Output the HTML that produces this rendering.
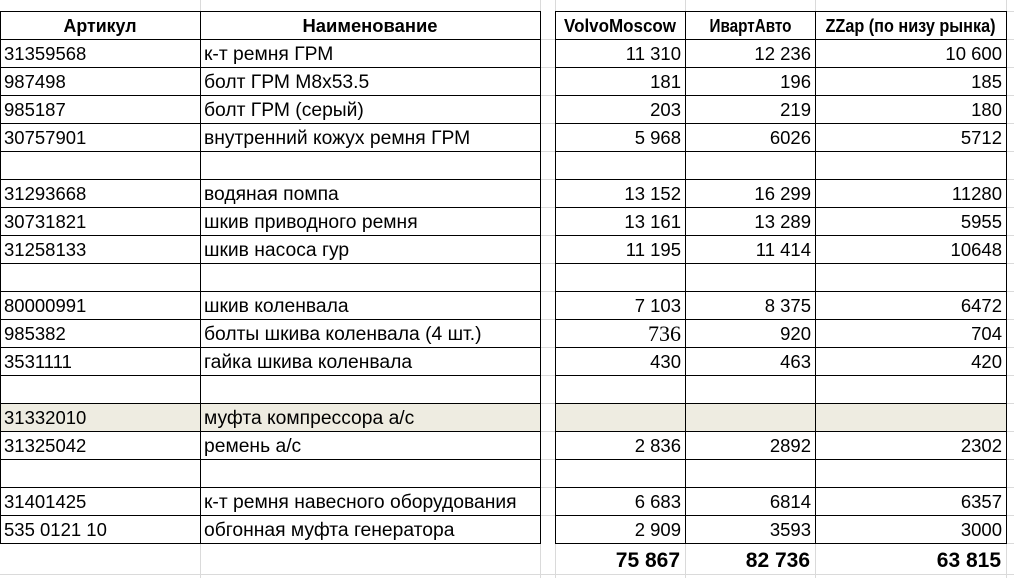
<!DOCTYPE html>
<html><head><meta charset="utf-8"><style>
html,body{margin:0;padding:0;background:#fff;width:1014px;height:578px;overflow:hidden}
svg{display:block}
.t{font-family:"Liberation Sans","Noto Sans CJK SC",sans-serif;fill:#000}
.n{font-size:18.5px}
.b{font-size:19.3px}
.h{font-size:18px;font-weight:bold}
.tot{font-size:21px;font-weight:bold}
</style></head><body>
<svg width="1014" height="578" viewBox="0 0 1014 578" xmlns="http://www.w3.org/2000/svg">
<rect width="1014" height="578" fill="#fff"/>
<rect x="0" y="403.5" width="540.5" height="28" fill="#EEECE1"/>
<rect x="555.5" y="403.5" width="451" height="28" fill="#EEECE1"/>
<g stroke="#dadada" stroke-width="1">
<line x1="200.5" y1="0" x2="200.5" y2="12"/>
<line x1="540.5" y1="0" x2="540.5" y2="12"/>
<line x1="555.5" y1="0" x2="555.5" y2="12"/>
<line x1="685.5" y1="0" x2="685.5" y2="12"/>
<line x1="815.5" y1="0" x2="815.5" y2="12"/>
<line x1="1006.5" y1="0" x2="1006.5" y2="578"/>
<line x1="200.5" y1="543" x2="200.5" y2="578"/>
<line x1="540.5" y1="543" x2="540.5" y2="578"/>
<line x1="555.5" y1="543" x2="555.5" y2="578"/>
<line x1="685.5" y1="543" x2="685.5" y2="578"/>
<line x1="815.5" y1="543" x2="815.5" y2="578"/>
<line x1="0" y1="574.5" x2="1014" y2="574.5"/>
<path d="M540 39.5H556M540 67.5H556M540 95.5H556M540 123.5H556M540 151.5H556M540 179.5H556M540 207.5H556M540 235.5H556M540 263.5H556M540 291.5H556M540 319.5H556M540 347.5H556M540 375.5H556M540 403.5H556M540 431.5H556M540 459.5H556M540 487.5H556M540 515.5H556"/>
<path d="M1006 11.5H1014M1006 39.5H1014M1006 67.5H1014M1006 95.5H1014M1006 123.5H1014M1006 151.5H1014M1006 179.5H1014M1006 207.5H1014M1006 235.5H1014M1006 263.5H1014M1006 291.5H1014M1006 319.5H1014M1006 347.5H1014M1006 375.5H1014M1006 403.5H1014M1006 431.5H1014M1006 459.5H1014M1006 487.5H1014M1006 515.5H1014M1006 543.5H1014"/>
</g>
<g stroke="#000" stroke-width="1" fill="none">
<path d="M0.5 11.5V543.5M200.5 11.5V543.5M540.5 11.5V543.5"/>
<path d="M555.5 11.5V543.5M685.5 11.5V543.5M815.5 11.5V543.5M1006.5 11.5V543.5"/>
<path d="M0 11.5H541M0 39.5H541M0 67.5H541M0 95.5H541M0 123.5H541M0 151.5H541M0 179.5H541M0 207.5H541M0 235.5H541M0 263.5H541M0 291.5H541M0 319.5H541M0 347.5H541M0 375.5H541M0 403.5H541M0 431.5H541M0 459.5H541M0 487.5H541M0 515.5H541M0 543.5H541"/>
<path d="M555 11.5H1007M555 39.5H1007M555 67.5H1007M555 95.5H1007M555 123.5H1007M555 151.5H1007M555 179.5H1007M555 207.5H1007M555 235.5H1007M555 263.5H1007M555 291.5H1007M555 319.5H1007M555 347.5H1007M555 375.5H1007M555 403.5H1007M555 431.5H1007M555 459.5H1007M555 487.5H1007M555 515.5H1007M555 543.5H1007"/>
</g>
<g class="t h" text-anchor="middle">
<text x="100" y="32" textLength="73" lengthAdjust="spacingAndGlyphs">Артикул</text>
<text x="370" y="32" textLength="135" lengthAdjust="spacingAndGlyphs">Наименование</text>
<text x="620" y="32" textLength="112" lengthAdjust="spacingAndGlyphs">VolvoMoscow</text>
<text x="750.5" y="32" textLength="82" lengthAdjust="spacingAndGlyphs">ИвартАвто</text>
<text x="910.5" y="32" textLength="170" lengthAdjust="spacingAndGlyphs">ZZap (по низу рынка)</text>
</g>
<g class="t n">
<text x="4" y="60">31359568</text>
<text x="4" y="88">987498</text>
<text x="4" y="116">985187</text>
<text x="4" y="144">30757901</text>
<text x="4" y="200">31293668</text>
<text x="4" y="228">30731821</text>
<text x="4" y="256">31258133</text>
<text x="4" y="312">80000991</text>
<text x="4" y="340">985382</text>
<text x="4" y="368">3531111</text>
<text x="4" y="424">31332010</text>
<text x="4" y="452">31325042</text>
<text x="4" y="508">31401425</text>
<text x="4" y="536">535 0121 10</text>
</g>
<g class="t b">
<text x="204" y="60">к-т ремня ГРМ</text>
<text x="204" y="88">болт ГРМ M8x53.5</text>
<text x="204" y="116">болт ГРМ (серый)</text>
<text x="204" y="144">внутренний кожух ремня ГРМ</text>
<text x="204" y="200">водяная помпа</text>
<text x="204" y="228">шкив приводного ремня</text>
<text x="204" y="256">шкив насоса гур</text>
<text x="204" y="312">шкив коленвала</text>
<text x="204" y="340">болты шкива коленвала (4 шт.)</text>
<text x="204" y="368">гайка шкива коленвала</text>
<text x="204" y="424">муфта компрессора а/с</text>
<text x="204" y="452">ремень а/с</text>
<text x="204" y="508">к-т ремня навесного оборудования</text>
<text x="204" y="536">обгонная муфта генератора</text>
</g>
<g class="t n" text-anchor="end">
<text x="681" y="60">11 310</text>
<text x="681" y="88">181</text>
<text x="681" y="116">203</text>
<text x="681" y="144">5 968</text>
<text x="681" y="200">13 152</text>
<text x="681" y="228">13 161</text>
<text x="681" y="256">11 195</text>
<text x="681" y="312">7 103</text>
<text x="681" y="368">430</text>
<text x="681" y="452">2 836</text>
<text x="681" y="508">6 683</text>
<text x="681" y="536">2 909</text>
</g>
<text x="681" y="341" text-anchor="end" style="font-family:'Liberation Serif',serif;font-size:22px;fill:#000">736</text>
<g class="t n" text-anchor="end">
<text x="811" y="60">12 236</text>
<text x="811" y="88">196</text>
<text x="811" y="116">219</text>
<text x="811" y="144">6026</text>
<text x="811" y="200">16 299</text>
<text x="811" y="228">13 289</text>
<text x="811" y="256">11 414</text>
<text x="811" y="312">8 375</text>
<text x="811" y="340">920</text>
<text x="811" y="368">463</text>
<text x="811" y="452">2892</text>
<text x="811" y="508">6814</text>
<text x="811" y="536">3593</text>
</g>
<g class="t n" text-anchor="end">
<text x="1002" y="60">10 600</text>
<text x="1002" y="88">185</text>
<text x="1002" y="116">180</text>
<text x="1002" y="144">5712</text>
<text x="1002" y="200">11280</text>
<text x="1002" y="228">5955</text>
<text x="1002" y="256">10648</text>
<text x="1002" y="312">6472</text>
<text x="1002" y="340">704</text>
<text x="1002" y="368">420</text>
<text x="1002" y="452">2302</text>
<text x="1002" y="508">6357</text>
<text x="1002" y="536">3000</text>
</g>
<g class="t tot" text-anchor="end">
<text x="680" y="567">75 867</text>
<text x="810" y="567">82 736</text>
<text x="1001" y="567">63 815</text>
</g>
</svg>
</body></html>
